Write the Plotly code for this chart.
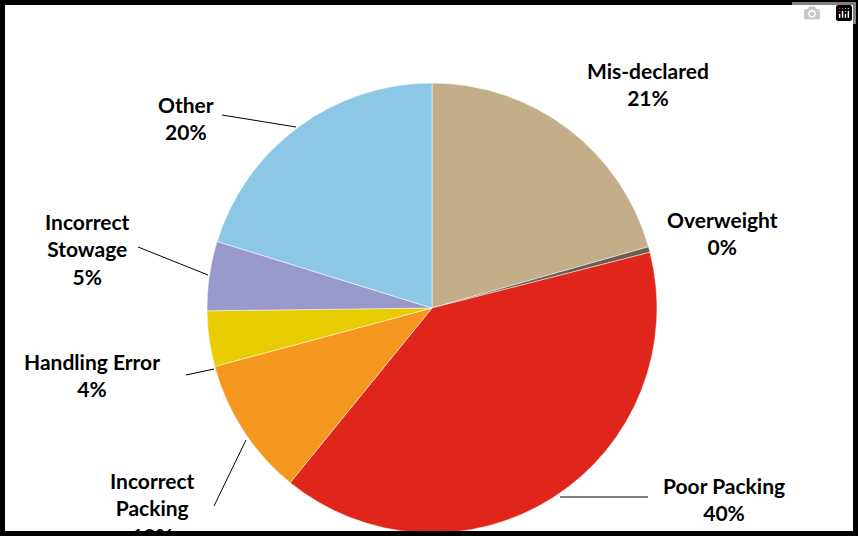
import plotly.graph_objects as go

labels = ["Mis-declared", "Overweight", "Poor Packing", "Incorrect Packing", "Handling Error", "Incorrect Stowage", "Other"]
values = [20.7, 0.4, 40.0, 10.0, 4.0, 5.0, 20.3]
pct_text = ["21%", "0%", "40%", "10%", "4%", "5%", "20%"]
colors = ["#C4AE8A", "#6B5E4F", "#E0251B", "#F5961E", "#E6CC00", "#9999CC", "#8CC8E6"]
label_text = ["Mis-declared", "Overweight", "Poor Packing", "Incorrect<br>Packing", "Handling Error", "Incorrect<br>Stowage", "Other"]
# label centers (px) and leader lines (px)
label_pos = [(648, 84), (722, 233), (724, 499), (152, 508), (92, 375), (87, 249), (186, 118)]
leaders = [None, None, ((560, 497), (648, 497)), ((246, 440), (214, 506)),
           ((214, 369), (186, 375)), ((208, 275), (138, 247)), ((296, 127), (222, 115))]

W, H = 858, 536
cx, cy, r = 432, 308, 225

fig = go.Figure(go.Pie(
    labels=labels, values=values, sort=False, direction="clockwise", rotation=0,
    marker=dict(colors=colors, line=dict(color="white", width=0.5)),
    textinfo="none", hoverinfo="label+percent", showlegend=False,
    domain=dict(x=[(cx - r) / W, (cx + r) / W], y=[1 - (cy + r) / H, 1 - (cy - r) / H]),
))

for i in range(len(labels)):
    x, y = label_pos[i]
    fig.add_annotation(x=x / W, y=1 - y / H, xref="paper", yref="paper",
                       xanchor="center", yanchor="middle",
                       text=f"<b>{label_text[i]}<br>{pct_text[i]}</b>", showarrow=False,
                       font=dict(family="Lato", size=21, color="black"), align="center")
    if leaders[i]:
        (x0, y0), (x1, y1) = leaders[i]
        fig.add_shape(type="line", xref="paper", yref="paper",
                      x0=x0 / W, y0=1 - y0 / H, x1=x1 / W, y1=1 - y1 / H,
                      line=dict(color="black", width=1))

fig.add_shape(type="rect", xref="paper", yref="paper", x0=0, y0=0, x1=1, y1=1,
              line=dict(color="black", width=10))
fig.update_layout(width=W, height=H, margin=dict(l=0, r=0, t=0, b=0),
                  paper_bgcolor="white", plot_bgcolor="white")
fig.write_html("out.html")

with open("out.html", encoding="utf-8") as f:
    html = f.read()
html = html.replace("<body>", "<body style=\"margin:0;overflow:hidden\">", 1)
with open("out.html", "w", encoding="utf-8") as f:
    f.write(html)
